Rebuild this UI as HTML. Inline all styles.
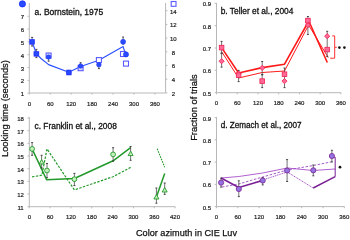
<!DOCTYPE html>
<html><head><meta charset="utf-8"><style>
html,body{margin:0;padding:0;background:#fff;width:350px;height:237px;overflow:hidden}
svg{display:block;will-change:transform;font-family:"Liberation Sans",sans-serif}
</style></head><body>
<svg width="350" height="237" viewBox="0 0 350 237">
<line x1="29.30" y1="3.00" x2="29.30" y2="93.00" stroke="#b8b8b8" stroke-width="1" />
<line x1="27.50" y1="93.20" x2="29.30" y2="93.20" stroke="#b8b8b8" stroke-width="1" />
<text x="22.30" y="96.15" font-size="6.0" text-anchor="middle" fill="#222" stroke="#222" stroke-width="0.2">1</text>
<line x1="27.50" y1="80.38" x2="29.30" y2="80.38" stroke="#b8b8b8" stroke-width="1" />
<text x="22.30" y="83.33" font-size="6.0" text-anchor="middle" fill="#222" stroke="#222" stroke-width="0.2">2</text>
<line x1="27.50" y1="67.56" x2="29.30" y2="67.56" stroke="#b8b8b8" stroke-width="1" />
<text x="22.30" y="70.51" font-size="6.0" text-anchor="middle" fill="#222" stroke="#222" stroke-width="0.2">3</text>
<line x1="27.50" y1="54.74" x2="29.30" y2="54.74" stroke="#b8b8b8" stroke-width="1" />
<text x="22.30" y="57.69" font-size="6.0" text-anchor="middle" fill="#222" stroke="#222" stroke-width="0.2">4</text>
<line x1="27.50" y1="41.92" x2="29.30" y2="41.92" stroke="#b8b8b8" stroke-width="1" />
<text x="22.30" y="44.87" font-size="6.0" text-anchor="middle" fill="#222" stroke="#222" stroke-width="0.2">5</text>
<line x1="27.50" y1="29.10" x2="29.30" y2="29.10" stroke="#b8b8b8" stroke-width="1" />
<text x="22.30" y="32.05" font-size="6.0" text-anchor="middle" fill="#222" stroke="#222" stroke-width="0.2">6</text>
<line x1="27.50" y1="16.28" x2="29.30" y2="16.28" stroke="#b8b8b8" stroke-width="1" />
<text x="22.30" y="19.23" font-size="6.0" text-anchor="middle" fill="#222" stroke="#222" stroke-width="0.2">7</text>
<line x1="165.60" y1="3.00" x2="165.60" y2="93.00" stroke="#b8b8b8" stroke-width="1" />
<line x1="165.60" y1="92.90" x2="167.40" y2="92.90" stroke="#b8b8b8" stroke-width="1" />
<text x="173.30" y="95.85" font-size="6.0" text-anchor="middle" fill="#222" stroke="#222" stroke-width="0.2">2</text>
<line x1="165.60" y1="79.20" x2="167.40" y2="79.20" stroke="#b8b8b8" stroke-width="1" />
<text x="173.30" y="82.15" font-size="6.0" text-anchor="middle" fill="#222" stroke="#222" stroke-width="0.2">4</text>
<line x1="165.60" y1="65.50" x2="167.40" y2="65.50" stroke="#b8b8b8" stroke-width="1" />
<text x="173.30" y="68.45" font-size="6.0" text-anchor="middle" fill="#222" stroke="#222" stroke-width="0.2">6</text>
<line x1="165.60" y1="51.80" x2="167.40" y2="51.80" stroke="#b8b8b8" stroke-width="1" />
<text x="173.30" y="54.75" font-size="6.0" text-anchor="middle" fill="#222" stroke="#222" stroke-width="0.2">8</text>
<line x1="165.60" y1="38.10" x2="167.40" y2="38.10" stroke="#b8b8b8" stroke-width="1" />
<text x="173.30" y="41.05" font-size="6.0" text-anchor="middle" fill="#222" stroke="#222" stroke-width="0.2">10</text>
<line x1="165.60" y1="24.40" x2="167.40" y2="24.40" stroke="#b8b8b8" stroke-width="1" />
<text x="173.30" y="27.35" font-size="6.0" text-anchor="middle" fill="#222" stroke="#222" stroke-width="0.2">12</text>
<line x1="165.60" y1="10.70" x2="167.40" y2="10.70" stroke="#b8b8b8" stroke-width="1" />
<text x="173.30" y="13.65" font-size="6.0" text-anchor="middle" fill="#222" stroke="#222" stroke-width="0.2">14</text>
<line x1="29.30" y1="93.00" x2="165.60" y2="93.00" stroke="#b8b8b8" stroke-width="1" />
<line x1="29.30" y1="93.00" x2="29.30" y2="94.60" stroke="#b8b8b8" stroke-width="1" />
<text x="29.30" y="105.70" font-size="6.0" text-anchor="middle" fill="#222" stroke="#222" stroke-width="0.2">0</text>
<line x1="50.24" y1="93.00" x2="50.24" y2="94.60" stroke="#b8b8b8" stroke-width="1" />
<text x="50.24" y="105.70" font-size="6.0" text-anchor="middle" fill="#222" stroke="#222" stroke-width="0.2">60</text>
<line x1="71.18" y1="93.00" x2="71.18" y2="94.60" stroke="#b8b8b8" stroke-width="1" />
<text x="71.18" y="105.70" font-size="6.0" text-anchor="middle" fill="#222" stroke="#222" stroke-width="0.2">120</text>
<line x1="92.12" y1="93.00" x2="92.12" y2="94.60" stroke="#b8b8b8" stroke-width="1" />
<text x="92.12" y="105.70" font-size="6.0" text-anchor="middle" fill="#222" stroke="#222" stroke-width="0.2">180</text>
<line x1="113.06" y1="93.00" x2="113.06" y2="94.60" stroke="#b8b8b8" stroke-width="1" />
<text x="113.06" y="105.70" font-size="6.0" text-anchor="middle" fill="#222" stroke="#222" stroke-width="0.2">240</text>
<line x1="134.00" y1="93.00" x2="134.00" y2="94.60" stroke="#b8b8b8" stroke-width="1" />
<text x="134.00" y="105.70" font-size="6.0" text-anchor="middle" fill="#222" stroke="#222" stroke-width="0.2">300</text>
<line x1="154.94" y1="93.00" x2="154.94" y2="94.60" stroke="#b8b8b8" stroke-width="1" />
<text x="154.94" y="105.70" font-size="6.0" text-anchor="middle" fill="#222" stroke="#222" stroke-width="0.2">360</text>
<text x="34.60" y="15.30" font-size="8.7" text-anchor="start" fill="#111" stroke="#111" stroke-width="0.3" textLength="68.5" lengthAdjust="spacingAndGlyphs">a. Bornstein, 1975</text>
<line x1="216.50" y1="3.00" x2="216.50" y2="92.70" stroke="#b8b8b8" stroke-width="1" />
<line x1="214.70" y1="92.70" x2="216.50" y2="92.70" stroke="#b8b8b8" stroke-width="1" />
<text x="206.80" y="95.65" font-size="6.0" text-anchor="middle" fill="#222" stroke="#222" stroke-width="0.2">0.5</text>
<line x1="214.70" y1="70.35" x2="216.50" y2="70.35" stroke="#b8b8b8" stroke-width="1" />
<text x="206.80" y="73.30" font-size="6.0" text-anchor="middle" fill="#222" stroke="#222" stroke-width="0.2">0.6</text>
<line x1="214.70" y1="48.00" x2="216.50" y2="48.00" stroke="#b8b8b8" stroke-width="1" />
<text x="206.80" y="50.95" font-size="6.0" text-anchor="middle" fill="#222" stroke="#222" stroke-width="0.2">0.7</text>
<line x1="214.70" y1="25.65" x2="216.50" y2="25.65" stroke="#b8b8b8" stroke-width="1" />
<text x="206.80" y="28.60" font-size="6.0" text-anchor="middle" fill="#222" stroke="#222" stroke-width="0.2">0.8</text>
<line x1="214.70" y1="3.30" x2="216.50" y2="3.30" stroke="#b8b8b8" stroke-width="1" />
<text x="206.80" y="6.25" font-size="6.0" text-anchor="middle" fill="#222" stroke="#222" stroke-width="0.2">0.9</text>
<line x1="216.50" y1="92.70" x2="341.00" y2="92.70" stroke="#b8b8b8" stroke-width="1" />
<line x1="216.50" y1="92.70" x2="216.50" y2="94.30" stroke="#b8b8b8" stroke-width="1" />
<text x="216.50" y="105.00" font-size="6.0" text-anchor="middle" fill="#222" stroke="#222" stroke-width="0.2">0</text>
<line x1="237.24" y1="92.70" x2="237.24" y2="94.30" stroke="#b8b8b8" stroke-width="1" />
<text x="237.24" y="105.00" font-size="6.0" text-anchor="middle" fill="#222" stroke="#222" stroke-width="0.2">60</text>
<line x1="257.97" y1="92.70" x2="257.97" y2="94.30" stroke="#b8b8b8" stroke-width="1" />
<text x="257.97" y="105.00" font-size="6.0" text-anchor="middle" fill="#222" stroke="#222" stroke-width="0.2">120</text>
<line x1="278.71" y1="92.70" x2="278.71" y2="94.30" stroke="#b8b8b8" stroke-width="1" />
<text x="278.71" y="105.00" font-size="6.0" text-anchor="middle" fill="#222" stroke="#222" stroke-width="0.2">180</text>
<line x1="299.44" y1="92.70" x2="299.44" y2="94.30" stroke="#b8b8b8" stroke-width="1" />
<text x="299.44" y="105.00" font-size="6.0" text-anchor="middle" fill="#222" stroke="#222" stroke-width="0.2">240</text>
<line x1="320.18" y1="92.70" x2="320.18" y2="94.30" stroke="#b8b8b8" stroke-width="1" />
<text x="320.18" y="105.00" font-size="6.0" text-anchor="middle" fill="#222" stroke="#222" stroke-width="0.2">300</text>
<line x1="340.92" y1="92.70" x2="340.92" y2="94.30" stroke="#b8b8b8" stroke-width="1" />
<text x="340.92" y="105.00" font-size="6.0" text-anchor="middle" fill="#222" stroke="#222" stroke-width="0.2">360</text>
<text x="220.70" y="13.60" font-size="8.7" text-anchor="start" fill="#111" stroke="#111" stroke-width="0.3" textLength="72.7" lengthAdjust="spacingAndGlyphs">b. Teller et al., 2004</text>
<line x1="29.30" y1="117.00" x2="29.30" y2="206.70" stroke="#b8b8b8" stroke-width="1" />
<line x1="27.50" y1="206.70" x2="29.30" y2="206.70" stroke="#b8b8b8" stroke-width="1" />
<text x="20.50" y="209.65" font-size="6.0" text-anchor="middle" fill="#222" stroke="#222" stroke-width="0.2">11</text>
<line x1="27.50" y1="194.03" x2="29.30" y2="194.03" stroke="#b8b8b8" stroke-width="1" />
<text x="20.50" y="196.98" font-size="6.0" text-anchor="middle" fill="#222" stroke="#222" stroke-width="0.2">12</text>
<line x1="27.50" y1="181.36" x2="29.30" y2="181.36" stroke="#b8b8b8" stroke-width="1" />
<text x="20.50" y="184.31" font-size="6.0" text-anchor="middle" fill="#222" stroke="#222" stroke-width="0.2">13</text>
<line x1="27.50" y1="168.69" x2="29.30" y2="168.69" stroke="#b8b8b8" stroke-width="1" />
<text x="20.50" y="171.64" font-size="6.0" text-anchor="middle" fill="#222" stroke="#222" stroke-width="0.2">14</text>
<line x1="27.50" y1="156.02" x2="29.30" y2="156.02" stroke="#b8b8b8" stroke-width="1" />
<text x="20.50" y="158.97" font-size="6.0" text-anchor="middle" fill="#222" stroke="#222" stroke-width="0.2">15</text>
<line x1="27.50" y1="143.35" x2="29.30" y2="143.35" stroke="#b8b8b8" stroke-width="1" />
<text x="20.50" y="146.30" font-size="6.0" text-anchor="middle" fill="#222" stroke="#222" stroke-width="0.2">16</text>
<line x1="27.50" y1="130.68" x2="29.30" y2="130.68" stroke="#b8b8b8" stroke-width="1" />
<text x="20.50" y="133.63" font-size="6.0" text-anchor="middle" fill="#222" stroke="#222" stroke-width="0.2">17</text>
<line x1="27.50" y1="118.01" x2="29.30" y2="118.01" stroke="#b8b8b8" stroke-width="1" />
<text x="20.50" y="120.96" font-size="6.0" text-anchor="middle" fill="#222" stroke="#222" stroke-width="0.2">18</text>
<line x1="29.30" y1="206.70" x2="175.30" y2="206.70" stroke="#b8b8b8" stroke-width="1" />
<line x1="29.30" y1="206.70" x2="29.30" y2="208.30" stroke="#b8b8b8" stroke-width="1" />
<text x="29.30" y="218.80" font-size="6.0" text-anchor="middle" fill="#222" stroke="#222" stroke-width="0.2">0</text>
<line x1="50.12" y1="206.70" x2="50.12" y2="208.30" stroke="#b8b8b8" stroke-width="1" />
<text x="50.12" y="218.80" font-size="6.0" text-anchor="middle" fill="#222" stroke="#222" stroke-width="0.2">60</text>
<line x1="70.94" y1="206.70" x2="70.94" y2="208.30" stroke="#b8b8b8" stroke-width="1" />
<text x="70.94" y="218.80" font-size="6.0" text-anchor="middle" fill="#222" stroke="#222" stroke-width="0.2">120</text>
<line x1="91.76" y1="206.70" x2="91.76" y2="208.30" stroke="#b8b8b8" stroke-width="1" />
<text x="91.76" y="218.80" font-size="6.0" text-anchor="middle" fill="#222" stroke="#222" stroke-width="0.2">180</text>
<line x1="112.58" y1="206.70" x2="112.58" y2="208.30" stroke="#b8b8b8" stroke-width="1" />
<text x="112.58" y="218.80" font-size="6.0" text-anchor="middle" fill="#222" stroke="#222" stroke-width="0.2">240</text>
<line x1="133.40" y1="206.70" x2="133.40" y2="208.30" stroke="#b8b8b8" stroke-width="1" />
<text x="133.40" y="218.80" font-size="6.0" text-anchor="middle" fill="#222" stroke="#222" stroke-width="0.2">300</text>
<line x1="154.22" y1="206.70" x2="154.22" y2="208.30" stroke="#b8b8b8" stroke-width="1" />
<text x="154.22" y="218.80" font-size="6.0" text-anchor="middle" fill="#222" stroke="#222" stroke-width="0.2">360</text>
<line x1="175.04" y1="206.70" x2="175.04" y2="208.30" stroke="#b8b8b8" stroke-width="1" />
<text x="175.04" y="218.80" font-size="6.0" text-anchor="middle" fill="#222" stroke="#222" stroke-width="0.2">420</text>
<text x="34.50" y="128.80" font-size="8.7" text-anchor="start" fill="#111" stroke="#111" stroke-width="0.3" textLength="82.3" lengthAdjust="spacingAndGlyphs">c. Franklin et al., 2008</text>
<line x1="216.50" y1="117.00" x2="216.50" y2="206.60" stroke="#b8b8b8" stroke-width="1" />
<line x1="214.70" y1="206.60" x2="216.50" y2="206.60" stroke="#b8b8b8" stroke-width="1" />
<text x="206.80" y="209.55" font-size="6.0" text-anchor="middle" fill="#222" stroke="#222" stroke-width="0.2">0.5</text>
<line x1="214.70" y1="184.35" x2="216.50" y2="184.35" stroke="#b8b8b8" stroke-width="1" />
<text x="206.80" y="187.30" font-size="6.0" text-anchor="middle" fill="#222" stroke="#222" stroke-width="0.2">0.6</text>
<line x1="214.70" y1="162.10" x2="216.50" y2="162.10" stroke="#b8b8b8" stroke-width="1" />
<text x="206.80" y="165.05" font-size="6.0" text-anchor="middle" fill="#222" stroke="#222" stroke-width="0.2">0.7</text>
<line x1="214.70" y1="139.85" x2="216.50" y2="139.85" stroke="#b8b8b8" stroke-width="1" />
<text x="206.80" y="142.80" font-size="6.0" text-anchor="middle" fill="#222" stroke="#222" stroke-width="0.2">0.8</text>
<line x1="214.70" y1="117.60" x2="216.50" y2="117.60" stroke="#b8b8b8" stroke-width="1" />
<text x="206.80" y="120.55" font-size="6.0" text-anchor="middle" fill="#222" stroke="#222" stroke-width="0.2">0.9</text>
<line x1="216.50" y1="206.60" x2="344.50" y2="206.60" stroke="#b8b8b8" stroke-width="1" />
<line x1="216.50" y1="206.60" x2="216.50" y2="208.20" stroke="#b8b8b8" stroke-width="1" />
<text x="216.50" y="218.90" font-size="6.0" text-anchor="middle" fill="#222" stroke="#222" stroke-width="0.2">0</text>
<line x1="237.80" y1="206.60" x2="237.80" y2="208.20" stroke="#b8b8b8" stroke-width="1" />
<text x="237.80" y="218.90" font-size="6.0" text-anchor="middle" fill="#222" stroke="#222" stroke-width="0.2">60</text>
<line x1="259.10" y1="206.60" x2="259.10" y2="208.20" stroke="#b8b8b8" stroke-width="1" />
<text x="259.10" y="218.90" font-size="6.0" text-anchor="middle" fill="#222" stroke="#222" stroke-width="0.2">120</text>
<line x1="280.40" y1="206.60" x2="280.40" y2="208.20" stroke="#b8b8b8" stroke-width="1" />
<text x="280.40" y="218.90" font-size="6.0" text-anchor="middle" fill="#222" stroke="#222" stroke-width="0.2">180</text>
<line x1="301.70" y1="206.60" x2="301.70" y2="208.20" stroke="#b8b8b8" stroke-width="1" />
<text x="301.70" y="218.90" font-size="6.0" text-anchor="middle" fill="#222" stroke="#222" stroke-width="0.2">240</text>
<line x1="323.00" y1="206.60" x2="323.00" y2="208.20" stroke="#b8b8b8" stroke-width="1" />
<text x="323.00" y="218.90" font-size="6.0" text-anchor="middle" fill="#222" stroke="#222" stroke-width="0.2">300</text>
<line x1="344.30" y1="206.60" x2="344.30" y2="208.20" stroke="#b8b8b8" stroke-width="1" />
<text x="344.30" y="218.90" font-size="6.0" text-anchor="middle" fill="#222" stroke="#222" stroke-width="0.2">360</text>
<text x="220.70" y="128.00" font-size="8.7" text-anchor="start" fill="#111" stroke="#111" stroke-width="0.3" textLength="80.9" lengthAdjust="spacingAndGlyphs">d. Zemach et al., 2007</text>
<polyline points="32.10,41.80 36.40,53.80 41.00,58.50 48.60,64.60 68.80,72.30 80.60,66.50 98.90,60.30 123.10,46.60 125.70,54.60" fill="none" stroke="#2a50ff" stroke-width="1.15" stroke-linejoin="round" />
<line x1="32.10" y1="37.40" x2="32.10" y2="46.00" stroke="#383838" stroke-width="0.7" />
<line x1="31.10" y1="37.40" x2="33.10" y2="37.40" stroke="#383838" stroke-width="0.9" />
<line x1="31.10" y1="46.00" x2="33.10" y2="46.00" stroke="#383838" stroke-width="0.9" />
<rect x="29.60" y="39.30" width="5.0" height="5.0" fill="#1a2cff" stroke="#5a5aff" stroke-width="0.6"/>
<circle cx="32.10" cy="41.80" r="2.3" fill="#2a4cff" stroke="#1028f0" stroke-width="0.4"/>
<line x1="36.40" y1="49.40" x2="36.40" y2="57.60" stroke="#383838" stroke-width="0.7" />
<line x1="35.40" y1="49.40" x2="37.40" y2="49.40" stroke="#383838" stroke-width="0.9" />
<line x1="35.40" y1="57.60" x2="37.40" y2="57.60" stroke="#383838" stroke-width="0.9" />
<rect x="33.90" y="51.30" width="5.0" height="5.0" fill="#1a2cff" stroke="#5a5aff" stroke-width="0.6"/>
<circle cx="36.40" cy="53.80" r="2.3" fill="#2a4cff" stroke="#1028f0" stroke-width="0.4"/>
<line x1="48.60" y1="53.30" x2="48.60" y2="61.20" stroke="#383838" stroke-width="0.7" />
<line x1="47.60" y1="53.30" x2="49.60" y2="53.30" stroke="#383838" stroke-width="0.9" />
<line x1="47.60" y1="61.20" x2="49.60" y2="61.20" stroke="#383838" stroke-width="0.9" />
<rect x="46.10" y="53.10" width="5.0" height="5.0" fill="#fff" stroke="#5a5aff" stroke-width="1.1"/>
<circle cx="48.60" cy="57.00" r="2.3" fill="#2a4cff" stroke="#1028f0" stroke-width="0.5"/>
<rect x="66.30" y="70.00" width="5.0" height="5.0" fill="#1a2cff" stroke="#5a5aff" stroke-width="0.6"/>
<circle cx="68.80" cy="72.50" r="2.3" fill="#2a4cff" stroke="#1028f0" stroke-width="0.4"/>
<line x1="80.60" y1="62.70" x2="80.60" y2="69.50" stroke="#383838" stroke-width="0.7" />
<line x1="79.60" y1="62.70" x2="81.60" y2="62.70" stroke="#383838" stroke-width="0.9" />
<line x1="79.60" y1="69.50" x2="81.60" y2="69.50" stroke="#383838" stroke-width="0.9" />
<rect x="78.10" y="65.70" width="5.0" height="5.0" fill="#d8d8ff" stroke="#5a5aff" stroke-width="1.1"/>
<circle cx="80.60" cy="66.00" r="2.3" fill="#2a4cff" stroke="#1028f0" stroke-width="0.5"/>
<line x1="98.90" y1="58.00" x2="98.90" y2="68.60" stroke="#383838" stroke-width="0.7" />
<line x1="97.90" y1="58.00" x2="99.90" y2="58.00" stroke="#383838" stroke-width="0.9" />
<line x1="97.90" y1="68.60" x2="99.90" y2="68.60" stroke="#383838" stroke-width="0.9" />
<rect x="96.40" y="57.60" width="5.0" height="5.0" fill="#fff" stroke="#5a5aff" stroke-width="1.1"/>
<circle cx="98.90" cy="64.80" r="2.3" fill="#2a4cff" stroke="#1028f0" stroke-width="0.5"/>
<line x1="123.10" y1="37.00" x2="123.10" y2="44.00" stroke="#383838" stroke-width="0.7" />
<line x1="122.10" y1="37.00" x2="124.10" y2="37.00" stroke="#383838" stroke-width="0.9" />
<line x1="122.10" y1="44.00" x2="124.10" y2="44.00" stroke="#383838" stroke-width="0.9" />
<circle cx="123.10" cy="41.80" r="2.5" fill="#2a4cff" stroke="#1028f0" stroke-width="0.5"/>
<rect x="120.50" y="51.50" width="5.0" height="5.0" fill="#fff" stroke="#5a5aff" stroke-width="1.1"/>
<circle cx="126.00" cy="54.40" r="2.6" fill="#2a4cff" stroke="#1028f0" stroke-width="0.5"/>
<rect x="123.50" y="61.10" width="5.0" height="5.0" fill="#fff" stroke="#5a5aff" stroke-width="1.1"/>
<circle cx="22.40" cy="3.90" r="3.1" fill="#2a4cff" stroke="#1a2cff" stroke-width="0.8"/>
<rect x="171.20" y="1.50" width="4.8" height="4.8" fill="#fff" stroke="#5a5aff" stroke-width="1.1"/>
<polyline points="221.60,47.60 238.60,73.00 262.20,67.60 284.50,64.20 308.80,21.00 327.30,62.50" fill="none" stroke="#ff1a1a" stroke-width="1.6" stroke-linejoin="round" />
<polyline points="222.00,52.20 238.60,78.00 262.20,72.50 284.50,71.00 308.60,25.00 328.20,57.50" fill="none" stroke="#ff1a1a" stroke-width="1.0" stroke-linejoin="round" />
<line x1="221.60" y1="41.40" x2="221.60" y2="53.00" stroke="#383838" stroke-width="0.7" />
<line x1="220.60" y1="41.40" x2="222.60" y2="41.40" stroke="#383838" stroke-width="0.9" />
<line x1="220.60" y1="53.00" x2="222.60" y2="53.00" stroke="#383838" stroke-width="0.9" />
<line x1="221.60" y1="53.60" x2="221.60" y2="67.10" stroke="#383838" stroke-width="0.7" />
<line x1="220.60" y1="53.60" x2="222.60" y2="53.60" stroke="#383838" stroke-width="0.9" />
<line x1="220.60" y1="67.10" x2="222.60" y2="67.10" stroke="#383838" stroke-width="0.9" />
<rect x="219.30" y="45.30" width="4.6" height="4.6" fill="#ff6a98" stroke="#f02050" stroke-width="0.8"/>
<polygon points="221.6,58.6 224.2,61.2 221.6,63.800000000000004 219.0,61.2" fill="#ff6a98" stroke="#f02050" stroke-width="0.8"/>
<line x1="238.60" y1="70.40" x2="238.60" y2="81.60" stroke="#383838" stroke-width="0.7" />
<line x1="237.60" y1="70.40" x2="239.60" y2="70.40" stroke="#383838" stroke-width="0.9" />
<line x1="237.60" y1="81.60" x2="239.60" y2="81.60" stroke="#383838" stroke-width="0.9" />
<polygon points="238.6,70.9 241.2,73.5 238.6,76.1 236.0,73.5" fill="#ff6a98" stroke="#f02050" stroke-width="0.8"/>
<rect x="236.30" y="72.90" width="4.6" height="4.6" fill="#ff6a98" stroke="#f02050" stroke-width="0.8"/>
<line x1="262.20" y1="61.50" x2="262.20" y2="74.70" stroke="#383838" stroke-width="0.7" />
<line x1="261.20" y1="61.50" x2="263.20" y2="61.50" stroke="#383838" stroke-width="0.9" />
<line x1="261.20" y1="74.70" x2="263.20" y2="74.70" stroke="#383838" stroke-width="0.9" />
<line x1="262.20" y1="74.70" x2="262.20" y2="87.60" stroke="#383838" stroke-width="0.7" />
<line x1="261.20" y1="74.70" x2="263.20" y2="74.70" stroke="#383838" stroke-width="0.9" />
<line x1="261.20" y1="87.60" x2="263.20" y2="87.60" stroke="#383838" stroke-width="0.9" />
<polygon points="262.2,65.30000000000001 264.8,67.9 262.2,70.5 259.59999999999997,67.9" fill="#ff6a98" stroke="#f02050" stroke-width="0.8"/>
<rect x="259.90" y="78.80" width="4.6" height="4.6" fill="#ff6a98" stroke="#f02050" stroke-width="0.8"/>
<line x1="284.50" y1="68.00" x2="284.50" y2="87.60" stroke="#383838" stroke-width="0.7" />
<line x1="283.50" y1="68.00" x2="285.50" y2="68.00" stroke="#383838" stroke-width="0.9" />
<line x1="283.50" y1="87.60" x2="285.50" y2="87.60" stroke="#383838" stroke-width="0.9" />
<rect x="282.20" y="71.90" width="4.6" height="4.6" fill="#ff6a98" stroke="#f02050" stroke-width="0.8"/>
<polygon points="284.5,78.5 287.1,81.1 284.5,83.69999999999999 281.9,81.1" fill="#ff6a98" stroke="#f02050" stroke-width="0.8"/>
<line x1="307.90" y1="16.50" x2="307.90" y2="34.50" stroke="#383838" stroke-width="0.7" />
<line x1="306.90" y1="16.50" x2="308.90" y2="16.50" stroke="#383838" stroke-width="0.9" />
<line x1="306.90" y1="34.50" x2="308.90" y2="34.50" stroke="#383838" stroke-width="0.9" />
<polygon points="307.9,22.5 310.5,25.1 307.9,27.700000000000003 305.29999999999995,25.1" fill="#ff6a98" stroke="#f02050" stroke-width="0.8"/>
<rect x="305.60" y="18.30" width="4.6" height="4.6" fill="#ff6a98" stroke="#f02050" stroke-width="0.8"/>
<line x1="327.20" y1="31.30" x2="327.20" y2="56.60" stroke="#383838" stroke-width="0.7" />
<line x1="326.20" y1="31.30" x2="328.20" y2="31.30" stroke="#383838" stroke-width="0.9" />
<line x1="326.20" y1="56.60" x2="328.20" y2="56.60" stroke="#383838" stroke-width="0.9" />
<polygon points="327.2,33.6 329.8,36.2 327.2,38.800000000000004 324.59999999999997,36.2" fill="#ff6a98" stroke="#f02050" stroke-width="0.8"/>
<rect x="324.90" y="47.30" width="4.6" height="4.6" fill="#ff6a98" stroke="#f02050" stroke-width="0.8"/>
<polyline points="332.20,35.90 334.70,35.90 334.70,58.20 330.20,58.20" fill="none" stroke="#ff1a1a" stroke-width="0.9" stroke-linejoin="round" />
<line x1="334.70" y1="47.30" x2="336.80" y2="47.30" stroke="#ff1a1a" stroke-width="0.9" />
<circle cx="339.40" cy="47.60" r="1.3" fill="#111" stroke="none" stroke-width="0"/>
<circle cx="344.40" cy="47.60" r="1.3" fill="#111" stroke="none" stroke-width="0"/>
<polyline points="32.10,148.90 46.60,179.80 74.40,178.50 113.10,160.80 130.60,147.70" fill="none" stroke="#22992a" stroke-width="1.5" stroke-linejoin="round" />
<polyline points="32.10,176.90 41.90,175.20 47.00,148.90 74.40,189.90 113.10,176.70 130.60,167.40" fill="none" stroke="#22992a" stroke-width="1.2" stroke-linejoin="round" stroke-dasharray="2.4,1.4"/>
<polyline points="157.20,148.80 164.70,167.30" fill="none" stroke="#22992a" stroke-width="1.1" stroke-linejoin="round" stroke-dasharray="1.6,1.1"/>
<polyline points="164.70,173.40 156.40,196.90" fill="none" stroke="#22992a" stroke-width="1.5" stroke-linejoin="round" />
<line x1="32.10" y1="142.60" x2="32.10" y2="155.30" stroke="#383838" stroke-width="0.7" />
<line x1="31.10" y1="142.60" x2="33.10" y2="142.60" stroke="#383838" stroke-width="0.9" />
<line x1="31.10" y1="155.30" x2="33.10" y2="155.30" stroke="#383838" stroke-width="0.9" />
<circle cx="32.10" cy="148.90" r="2.4" fill="#c4f0bc" stroke="#22992a" stroke-width="0.9"/>
<line x1="41.60" y1="155.30" x2="41.60" y2="168.00" stroke="#383838" stroke-width="0.7" />
<line x1="40.60" y1="155.30" x2="42.60" y2="155.30" stroke="#383838" stroke-width="0.9" />
<line x1="40.60" y1="168.00" x2="42.60" y2="168.00" stroke="#383838" stroke-width="0.9" />
<polygon points="41.6,159.5 44.1,164.0 39.1,164.0" fill="#c4f0bc" stroke="#22992a" stroke-width="0.9"/>
<line x1="47.00" y1="163.50" x2="47.00" y2="177.70" stroke="#383838" stroke-width="0.7" />
<line x1="46.00" y1="163.50" x2="48.00" y2="163.50" stroke="#383838" stroke-width="0.9" />
<line x1="46.00" y1="177.70" x2="48.00" y2="177.70" stroke="#383838" stroke-width="0.9" />
<circle cx="47.00" cy="170.50" r="2.4" fill="#c4f0bc" stroke="#22992a" stroke-width="0.9"/>
<line x1="74.40" y1="173.40" x2="74.40" y2="185.60" stroke="#383838" stroke-width="0.7" />
<line x1="73.40" y1="173.40" x2="75.40" y2="173.40" stroke="#383838" stroke-width="0.9" />
<line x1="73.40" y1="185.60" x2="75.40" y2="185.60" stroke="#383838" stroke-width="0.9" />
<circle cx="74.40" cy="179.20" r="2.4" fill="#c4f0bc" stroke="#22992a" stroke-width="0.9"/>
<line x1="113.10" y1="147.70" x2="113.10" y2="161.20" stroke="#383838" stroke-width="0.7" />
<line x1="112.10" y1="147.70" x2="114.10" y2="147.70" stroke="#383838" stroke-width="0.9" />
<line x1="112.10" y1="161.20" x2="114.10" y2="161.20" stroke="#383838" stroke-width="0.9" />
<circle cx="113.10" cy="154.40" r="2.4" fill="#c4f0bc" stroke="#22992a" stroke-width="0.9"/>
<line x1="130.60" y1="146.50" x2="130.60" y2="160.30" stroke="#383838" stroke-width="0.7" />
<line x1="129.60" y1="146.50" x2="131.60" y2="146.50" stroke="#383838" stroke-width="0.9" />
<line x1="129.60" y1="160.30" x2="131.60" y2="160.30" stroke="#383838" stroke-width="0.9" />
<polygon points="130.6,151.1 133.1,155.6 128.1,155.6" fill="#c4f0bc" stroke="#22992a" stroke-width="0.9"/>
<line x1="156.40" y1="188.00" x2="156.40" y2="203.20" stroke="#383838" stroke-width="0.7" />
<line x1="155.40" y1="188.00" x2="157.40" y2="188.00" stroke="#383838" stroke-width="0.9" />
<line x1="155.40" y1="203.20" x2="157.40" y2="203.20" stroke="#383838" stroke-width="0.9" />
<polygon points="156.4,194.5 158.9,199.0 153.9,199.0" fill="#c4f0bc" stroke="#22992a" stroke-width="0.9"/>
<line x1="164.70" y1="183.00" x2="164.70" y2="194.40" stroke="#383838" stroke-width="0.7" />
<line x1="163.70" y1="183.00" x2="165.70" y2="183.00" stroke="#383838" stroke-width="0.9" />
<line x1="163.70" y1="194.40" x2="165.70" y2="194.40" stroke="#383838" stroke-width="0.9" />
<polygon points="164.7,187.5 167.2,192.0 162.2,192.0" fill="#c4f0bc" stroke="#22992a" stroke-width="0.9"/>
<polyline points="221.10,178.00 238.80,176.50 262.60,173.00 287.20,168.00 313.20,170.50 335.00,169.00" fill="none" stroke="#b060d0" stroke-width="1.0" stroke-linejoin="round" />
<polyline points="222.00,187.00 238.80,184.00 262.60,177.00 287.20,170.00 313.20,165.50 331.80,161.80" fill="none" stroke="#9a48c0" stroke-width="0.9" stroke-linejoin="round" stroke-dasharray="2.5,1.6"/>
<polyline points="255.00,182.40 262.60,180.00 287.20,172.00 313.20,188.00" fill="none" stroke="#9a48c0" stroke-width="0.9" stroke-linejoin="round" stroke-dasharray="1.2,0.7"/>
<polyline points="221.10,178.00 238.80,187.50 262.60,180.50" fill="none" stroke="#7a2296" stroke-width="1.6" stroke-linejoin="round" />
<polyline points="313.20,188.00 335.20,176.70" fill="none" stroke="#7a2296" stroke-width="1.5" stroke-linejoin="round" />
<polyline points="335.20,176.70 335.20,157.30 332.00,157.30" fill="none" stroke="#7a2296" stroke-width="1.0" stroke-linejoin="round" />
<line x1="221.10" y1="178.20" x2="221.10" y2="187.10" stroke="#383838" stroke-width="0.7" />
<line x1="220.10" y1="178.20" x2="222.10" y2="178.20" stroke="#383838" stroke-width="0.9" />
<line x1="220.10" y1="187.10" x2="222.10" y2="187.10" stroke="#383838" stroke-width="0.9" />
<circle cx="221.10" cy="182.60" r="2.6" fill="#9474e0" stroke="#7a2296" stroke-width="0.8"/>
<line x1="238.80" y1="180.80" x2="238.80" y2="196.60" stroke="#383838" stroke-width="0.7" />
<line x1="237.80" y1="180.80" x2="239.80" y2="180.80" stroke="#383838" stroke-width="0.9" />
<line x1="237.80" y1="196.60" x2="239.80" y2="196.60" stroke="#383838" stroke-width="0.9" />
<circle cx="238.80" cy="189.00" r="2.6" fill="#9474e0" stroke="#7a2296" stroke-width="0.8"/>
<line x1="262.70" y1="177.50" x2="262.70" y2="184.90" stroke="#383838" stroke-width="0.7" />
<line x1="261.70" y1="177.50" x2="263.70" y2="177.50" stroke="#383838" stroke-width="0.9" />
<line x1="261.70" y1="184.90" x2="263.70" y2="184.90" stroke="#383838" stroke-width="0.9" />
<circle cx="262.70" cy="180.50" r="2.6" fill="#9474e0" stroke="#7a2296" stroke-width="0.8"/>
<line x1="287.10" y1="159.60" x2="287.10" y2="181.50" stroke="#383838" stroke-width="0.7" />
<line x1="286.10" y1="159.60" x2="288.10" y2="159.60" stroke="#383838" stroke-width="0.9" />
<line x1="286.10" y1="181.50" x2="288.10" y2="181.50" stroke="#383838" stroke-width="0.9" />
<circle cx="287.10" cy="170.50" r="2.6" fill="#9474e0" stroke="#7a2296" stroke-width="0.8"/>
<line x1="313.30" y1="165.00" x2="313.30" y2="175.80" stroke="#383838" stroke-width="0.7" />
<line x1="312.30" y1="165.00" x2="314.30" y2="165.00" stroke="#383838" stroke-width="0.9" />
<line x1="312.30" y1="175.80" x2="314.30" y2="175.80" stroke="#383838" stroke-width="0.9" />
<circle cx="313.30" cy="170.30" r="2.6" fill="#9474e0" stroke="#7a2296" stroke-width="0.8"/>
<line x1="331.90" y1="150.30" x2="331.90" y2="161.90" stroke="#383838" stroke-width="0.7" />
<line x1="330.90" y1="150.30" x2="332.90" y2="150.30" stroke="#383838" stroke-width="0.9" />
<line x1="330.90" y1="161.90" x2="332.90" y2="161.90" stroke="#383838" stroke-width="0.9" />
<circle cx="331.90" cy="156.00" r="2.6" fill="#9474e0" stroke="#7a2296" stroke-width="0.8"/>
<circle cx="340.00" cy="167.20" r="1.35" fill="#111" stroke="none" stroke-width="0"/>
<text x="7.80" y="108.60" font-size="9.6" text-anchor="middle" fill="#111" stroke="#111" stroke-width="0.25" transform="rotate(-90 7.8 108.6)" textLength="97" lengthAdjust="spacingAndGlyphs">Looking time (seconds)</text>
<text x="196.70" y="107.60" font-size="9.6" text-anchor="middle" fill="#111" stroke="#111" stroke-width="0.25" transform="rotate(-90 196.7 107.6)" textLength="66.5" lengthAdjust="spacingAndGlyphs">Fraction of trials</text>
<text x="186.50" y="236.00" font-size="9.6" text-anchor="middle" fill="#111" stroke="#111" stroke-width="0.25" textLength="101" lengthAdjust="spacingAndGlyphs">Color azimuth in CIE Luv</text>
</svg></body></html>
